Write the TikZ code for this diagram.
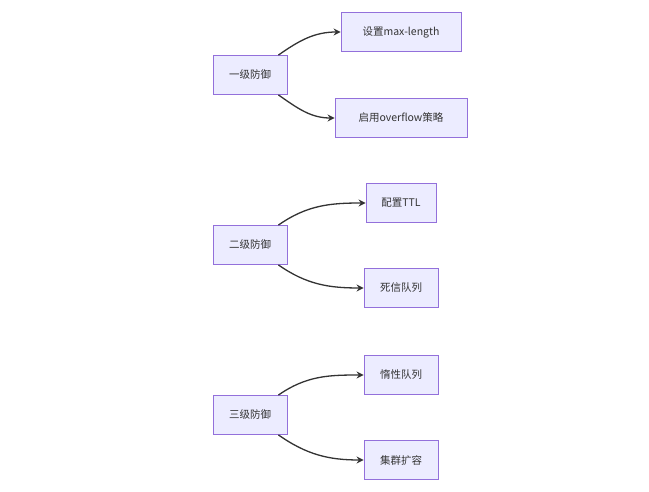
\documentclass[tikz,border=0pt]{standalone}
\usepackage{fontspec}
\setmainfont{Noto Sans CJK SC}
\usetikzlibrary{calc,arrows.meta}
\definecolor{nf}{HTML}{ECECFF}\definecolor{nb}{HTML}{9370DB}\definecolor{tx}{HTML}{333333}
\begin{document}
\begin{tikzpicture}[x=1pt,y=-1pt,
 box/.style={draw=nb,fill=nf,line width=0.8pt,text=tx,font=\fontsize{10.5}{12}\selectfont,minimum height=39,inner xsep=8,anchor=center},
 ed/.style={draw=tx,line width=1.3pt,-{Stealth[length=7,width=7]}}]
\useasboundingbox (0,0) rectangle (649,492);
\foreach \n/\t/\y in {a/一级防御/75,b/二级防御/245,c/三级防御/415}{\node[box,minimum width=74] (\n) at (250,\y) {\t};}
\node[box,minimum width=120] (a1) at (401,32) {设置max-length};
\node[box,minimum width=132] (a2) at (401,118) {启用overflow策略};
\node[box,minimum width=70] (b1) at (401,203) {配置TTL};
\node[box,minimum width=74] (b2) at (401,288) {死信队列};
\node[box,minimum width=74] (c1) at (401,375) {惰性队列};
\node[box,minimum width=74] (c2) at (401,460) {集群扩容};
\foreach \s/\u/\d in {a/a1/a2,b/b1/b2,c/c1/c2}{
 \draw[ed] ($(\s.north east)+(-9,0)$) to[out=35,in=180] (\u.west);
 \draw[ed] ($(\s.south east)+(-9,0)$) to[out=-35,in=180] (\d.west);}
\end{tikzpicture}
\end{document}
